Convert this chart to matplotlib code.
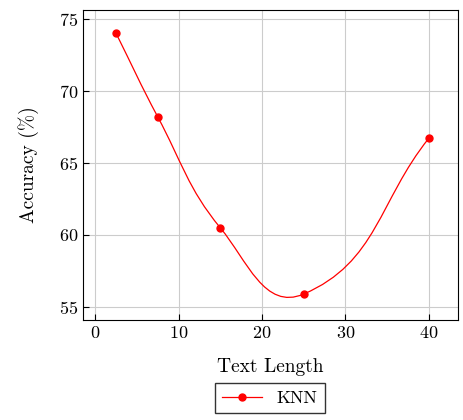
import numpy as np
import matplotlib
matplotlib.use("Agg")
import matplotlib.pyplot as plt
from matplotlib.path import Path
from matplotlib.patches import PathPatch
from matplotlib.lines import Line2D

plt.rcParams["font.family"] = "serif"
plt.rcParams["font.serif"] = ["cmr10", "DejaVu Serif"]
plt.rcParams["axes.formatter.use_mathtext"] = True

text_length = [2.5, 7.5, 15, 25, 40]
accuracy = [74.0, 68.2, 60.5, 55.9, 66.7]


def smooth_path(x, y, sx, sy, tension=0.4):
    # pgfplots-like smooth curve, built in screen-like units (sx, sy = px per data unit)
    p = np.column_stack([np.asarray(x, float) * sx, np.asarray(y, float) * sy])
    n = len(p)
    tang = []
    for i in range(n):
        a = p[max(i - 1, 0)]
        b = p[min(i + 1, n - 1)]
        d = b - a
        tang.append(d / np.linalg.norm(d))
    verts = [tuple(p[0])]
    codes = [Path.MOVETO]
    for i in range(n - 1):
        L = np.linalg.norm(p[i + 1] - p[i])
        c1 = p[i] + tang[i] * L * tension
        c2 = p[i + 1] - tang[i + 1] * L * tension
        verts += [tuple(c1), tuple(c2), tuple(p[i + 1])]
        codes += [Path.CURVE4] * 3
    verts = [(vx / sx, vy / sy) for vx, vy in verts]
    return Path(verts, codes)


fig = plt.figure(figsize=(4.64, 4.2), dpi=100)
ax = fig.add_axes([83 / 464, 100 / 420, 375 / 464, 310 / 420])

ax.add_patch(PathPatch(smooth_path(text_length, accuracy, 8.3, 14.4), facecolor="none",
                       edgecolor="red", lw=0.9, zorder=3))
ax.plot(text_length, accuracy, "o", color="red", ms=5, zorder=4)

ax.set_xlim(-1.45, 43.5)
ax.set_ylim(54.1, 75.6)
ax.set_xticks([0, 10, 20, 30, 40])
ax.set_yticks([55, 60, 65, 70, 75])
ax.grid(color="#cccccc", lw=0.8)
ax.set_axisbelow(True)
ax.tick_params(labelsize=13, direction="in", length=4)
ax.set_xlabel("Text Length", fontsize=14, labelpad=12)
ax.set_ylabel("Accuracy (%)", fontsize=14, labelpad=14)

handle = Line2D([], [], color="red", marker="o", ms=5, lw=0.9)
fig.legend([handle], ["KNN"], loc="center", bbox_to_anchor=(270 / 464, 1 - 398 / 420),
           fontsize=13, frameon=True, fancybox=False, edgecolor="black", handlelength=2.2)

fig.savefig("out.png", dpi=100)
